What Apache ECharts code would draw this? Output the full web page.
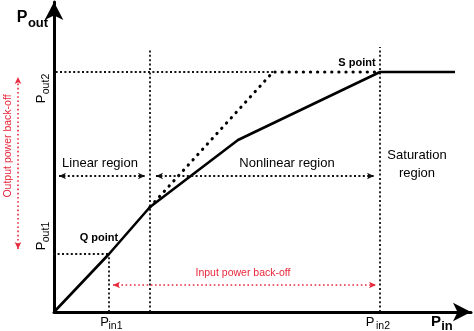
<!DOCTYPE html>
<html>
<head>
<meta charset="utf-8">
<script src="https://cdn.jsdelivr.net/npm/echarts@6/dist/echarts.min.js"></script>
<style>html,body{margin:0;padding:0;background:#fff}#c{width:474px;height:331px}</style>
</head>
<body>
<div id="c"></div>
<script>
// ---- data (input / output power, normalised units) ----
const pinCurve  = [0, 55, 96, 184, 326, 401];      // actual PA transfer curve (input)
const poutCurve = [0, 58, 105, 172, 240, 240];     // actual PA transfer curve (output)
const pinIdeal  = [96, 219, 326];                  // ideal linear extension (input)
const poutIdeal = [105, 240, 240];                 // ideal linear extension (output)
const pin1 = 55, pinKnee = 96, pin2 = 326;         // P_in1, end of linear region, P_in2
const pout1 = 58, pout2 = 240;                     // P_out1, P_out2

const FONT = '"Liberation Sans", Arial, sans-serif';
const RED = '#e8283c';
const thin = {color: '#111', width: 1.8, type: [2, 2.4]};
const redLine = {color: RED, width: 1.6, type: [1.6, 2.6]};

function pts(xs, ys) { return xs.map((x, i) => [x, ys[i]]); }
function plain(name, data, lineStyle) {
  return {type: 'line', name, data, showSymbol: false, clip: false, silent: true,
          animation: false, lineStyle, emphasis: {disabled: true}, z: 2};
}
function arrow(x1, y1, x2, y2, color, ls, inset, axisIdx) {
  const th = Math.atan2(y2 - y1, x2 - x1);
  const dx = Math.cos(th) * inset, dy = Math.sin(th) * inset;
  const deg = th * 180 / Math.PI;
  return {type: 'line', xAxisIndex: axisIdx || 0, yAxisIndex: axisIdx || 0, data: [
      {value: [x1 + dx, y1 + dy], symbol: 'arrow', symbolRotate: deg + 90},
      {value: [x2 - dx, y2 - dy], symbol: 'arrow', symbolRotate: deg - 90}],
    showSymbol: true, symbolSize: [5, 7], clip: false, silent: true, animation: false,
    itemStyle: {color}, lineStyle: Object.assign({}, ls), emphasis: {disabled: true}, z: 3};
}
function t(text, x, y, font, opts) {
  return Object.assign({type: 'text', x, y, silent: true,
    style: {text, font: font + ' ' + FONT, fill: (opts && opts.fill) || '#000',
            align: 'center', verticalAlign: 'middle'}}, opts && opts.rot ? {rotation: Math.PI / 2} : {});
}
const hiddenAxis = {show: false};

const chart = echarts.init(document.getElementById('c'), null, {renderer: 'canvas'});
const regionY = 136;
chart.setOption({
  animation: false,
  grid: [{left: 54, right: 3, top: 2, bottom: 19}, {left: 0, width: 54, top: 2, bottom: 19}],
  xAxis: [{type: 'value', min: 0, max: 417, splitLine: {show: false},
    axisTick: {show: false}, axisLabel: {show: false},
    axisLine: {lineStyle: {color: '#000', width: 3}, symbol: ['none', 'arrow'], symbolSize: [14, 18]}},
    Object.assign({type: 'value', gridIndex: 1, min: -54, max: 0}, hiddenAxis)],
  yAxis: [{type: 'value', min: 0, max: 310, splitLine: {show: false},
    axisTick: {show: false}, axisLabel: {show: false},
    axisLine: {lineStyle: {color: '#000', width: 3}, symbol: ['none', 'arrow'], symbolSize: [14, 18]}},
    Object.assign({type: 'value', gridIndex: 1, min: 0, max: 310}, hiddenAxis)],
  series: [
    plain('Pout1 ref', [[-36, pout1], [pin1, pout1]], thin),
    plain('Pin1 ref', [[pin1, 0], [pin1, pout1]], thin),
    plain('Pout2 ref', [[-38, pout2], [pinIdeal[1], pout2]], thin),
    plain('knee ref', [[pinKnee, 0], [pinKnee, 262]], thin),
    plain('Pin2 ref', [[pin2, 0], [pin2, 265]], thin),
    plain('ideal', pts(pinIdeal, poutIdeal), {color: '#000', width: 3.2, type: [0.1, 7], cap: 'round'}),
    plain('actual', pts(pinCurve, poutCurve), {color: '#000', width: 2.6}),
    arrow(0, regionY, pinKnee, regionY, '#111', thin, 5),
    arrow(pinKnee, regionY, pin2, regionY, '#111', thin, 6),
    arrow(-36, pout1, -36, pout2, RED, redLine, 5, 1),
    arrow(pin1, 27, pin2, 27, RED, redLine, 4)
  ],
  graphic: [
    t('P', 22, 18, 'bold 16px'), t('out', 38, 23.5, 'bold 13px'),
    t('P', 436, 322, 'bold 15px'), t('in', 447, 326.5, 'bold 13px'),
    t('P', 104.5, 322, '13px'), t('in1', 115.5, 326.5, '10.5px'),
    t('P', 370, 322, '13px'), t('in2', 383, 326.5, '10.5px'),
    t('P', 41, 246, '13px', {rot: 1}), t('out1', 46.5, 232, '10.5px', {rot: 1}),
    t('P', 41, 99, '13px', {rot: 1}), t('out2', 46.5, 84, '10.5px', {rot: 1}),
    t('Output power back-off', 8, 146, '10.5px', {rot: 1, fill: RED}),
    t('Input power back-off', 243, 273, '10.5px', {fill: RED}),
    t('Linear region', 100, 163, '13px'),
    t('Nonlinear region', 287, 163, '13px'),
    t('Saturation', 417, 155, '13px'),
    t('region', 417, 173, '13px'),
    t('Q point', 99, 238, 'bold 11px'),
    t('S point', 357, 63, 'bold 11px')
  ]
});
</script>
</body>
</html>
